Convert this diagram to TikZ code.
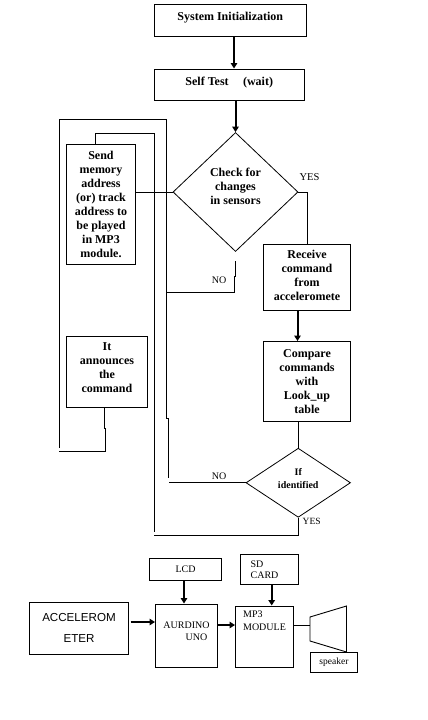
\documentclass[tikz,border=0pt]{standalone}
\usepackage{fontspec}
\setmainfont{Liberation Serif}
\newfontfamily\arialfont{Liberation Sans}
\usetikzlibrary{shapes.geometric,arrows.meta}
\tikzset{
  boxb/.style={draw,line width=1pt,inner sep=0pt,align=center,font=\fontsize{12}{14}\selectfont\bfseries},
  dia/.style={draw,diamond,aspect=1,line width=0.8pt,inner sep=0pt,align=center,font=\fontsize{12}{14}\selectfont\bfseries},
  plainbox/.style={draw,line width=1pt,inner sep=0pt,align=center,font=\fontsize{10}{12}\selectfont},
  lab/.style={inner sep=0pt,font=\fontsize{10}{12}\selectfont},
  wire/.style={line width=1pt},
  thin wire/.style={line width=0.9pt},
  flow/.style={line width=2pt,-{Triangle[width=6.5pt,length=5.5pt]}},
}
\begin{document}
\begin{tikzpicture}[x=1pt,y=-1pt]
\useasboundingbox (0,0) rectangle (428,720);
% flowchart boxes
\node[boxb,minimum width=151.5pt,minimum height=31.5pt] (sys) at (230.25,20.25) {System Initialization\\[-6pt]\mbox{}};
\node[boxb,minimum width=149.5pt,minimum height=31pt] (self) at (229.25,84.5) {Self Test\hspace{0.95em} (wait)\\[-7pt]\mbox{}};
\node[boxb,minimum width=69pt,minimum height=120pt] (send) at (101,204) {Send\\memory\\address\\(or) track\\address to\\be played\\in MP3\\module.};
\node[boxb,minimum width=81pt,minimum height=71pt] (ann) at (107,371.5) {It\\announces\\the\\command\\[-7pt]\mbox{}};
\node[dia,minimum width=125pt,minimum height=119pt] (d1) at (235.5,192) {Check for\\changes\\in sensors\\[-3pt]\mbox{}};
\node[boxb,minimum width=87pt,minimum height=66pt] (recv) at (307,277) {Receive\\command\\from\\acceleromete\\[-11pt]\mbox{}};
\node[boxb,minimum width=87pt,minimum height=79.5pt] (cmp) at (307,381.25) {Compare\\commands\\with\\Look\_up\\table};
\node[dia,minimum width=104.5pt,minimum height=68.5pt,font=\fontsize{10}{12.5}\bfseries\selectfont] (d2) at (298.25,482.75) {If\\identified\\[-3.5pt]\mbox{}};
% block diagram
\node[draw,line width=1pt,inner sep=0pt,align=center,minimum width=99pt,minimum height=52pt,font=\arialfont\fontsize{11.6}{21}\selectfont] (acc) at (79,628) {ACCELEROM\\ETER};
\node[plainbox,minimum width=62pt,minimum height=63pt] (uno) at (186.5,635.5) {AURDINO\\\hspace*{20pt}UNO\\[-3pt]\mbox{}};
\node[plainbox,minimum width=72pt,minimum height=22pt] (lcd) at (185.5,569.5) {LCD};
\node[plainbox,minimum width=58pt,minimum height=30.5pt,align=left,font=\fontsize{10}{11}\selectfont] (sd) at (269.5,569.25) {SD\hspace*{25pt}\mbox{}\\CARD};
\node[plainbox,minimum width=58pt,minimum height=61pt,align=left,font=\fontsize{10}{13}\selectfont] (mp3) at (264.5,636.5) {MP3\\MODULE\\[19pt]\mbox{}};
\node[plainbox,minimum width=47pt,minimum height=20pt,font=\fontsize{9.5}{11}\selectfont] (spk) at (334,662) {speaker};
% labels
\node[lab,font=\fontsize{10.5}{12}\selectfont] (yes1) at (309.5,177) {YES};
\node[lab] (no1) at (219,280.5) {NO};
\node[lab] (no2) at (219,476) {NO};
\node[lab,font=\fontsize{9.5}{12}\selectfont] (yes2) at (311.7,521.7) {YES};
% speaker horn
\coordinate (h1) at (310,617);
\coordinate (h2) at (346.5,606);
\coordinate (h3) at (346.5,652);
\coordinate (h4) at (310,641);
\draw[thin wire] (h1) -- (h2) -- (h3) -- (h4) -- cycle;
% thick arrows
\draw[flow] ([xshift=3.75pt]sys.south) -- ([xshift=4.75pt]self.north);
\draw[flow] (d1.north |- self.south) -- (d1.north);
\draw[flow] ([xshift=-9.5pt]recv.south) -- ([xshift=-9.5pt]cmp.north);
\draw[flow] (acc.east |- 0,622) ++(1.5,0) -- (uno.west |- 0,622);
\draw[flow] (lcd.south -| 184,0) -- (uno.north -| 184,0);
\draw[flow] (uno.east |- 0,625) -- (mp3.west |- 0,625);
\draw[flow] (sd.south -| 271.7,0) -- (mp3.north -| 271.7,0);
% thin connectors
\draw[thin wire] (mp3.east |- 0,625.5) -- (h1 |- 0,625.5);
\draw[wire] (send.east |- d1.west) -- (d1.west);
\draw[wire] (d1.east) -| (recv.north);
\draw[wire] (cmp.south -| d2.north) -- (d2.north);
% YES from second decision back to the Send box
\coordinate (s1) at (95.5,133);
\coordinate (s2) at (154.5,133);
\coordinate (s3) at (154.5,532);
\coordinate (s4) at (154,535);
\coordinate (s5) at (298.25,535);
\draw[wire] (send.north -| s1) -- (s1) -- (s2) -- (s3);
\draw[wire] (s4) -- (s5) -- (d2.south);
% NO branches
\coordinate (n1) at (235.7,261);
\coordinate (n2) at (235.7,276.7);
\coordinate (n3) at (234.3,276.7);
\coordinate (n4) at (234.3,292);
\coordinate (n5) at (166,292);
\draw[wire] (n1) -- (n2) -- (n3) -- (n4) -- (n5);
\coordinate (l1) at (59.5,119.5);
\coordinate (l2) at (166,119.5);
\coordinate (l4) at (166,418);
\coordinate (l5) at (168.3,418);
\coordinate (l6) at (168.3,478);
\coordinate (l7) at (169,482.75);
\coordinate (l8) at (59.5,447.7);
\draw[wire] (l8) -- (l1) -- (l2) -- (l4) -- (l5) -- (l6);
\draw[wire] (l7) -- (d2.west);
% announce feedback
\coordinate (a1) at (104.5,428);
\coordinate (a2) at (105.4,428);
\coordinate (a3) at (105.4,451.5);
\coordinate (a4) at (59,451.5);
\draw[wire] (ann.south -| a1) -- (a1) -- (a2) -- (a3) -- (a4);
\end{tikzpicture}
\end{document}
